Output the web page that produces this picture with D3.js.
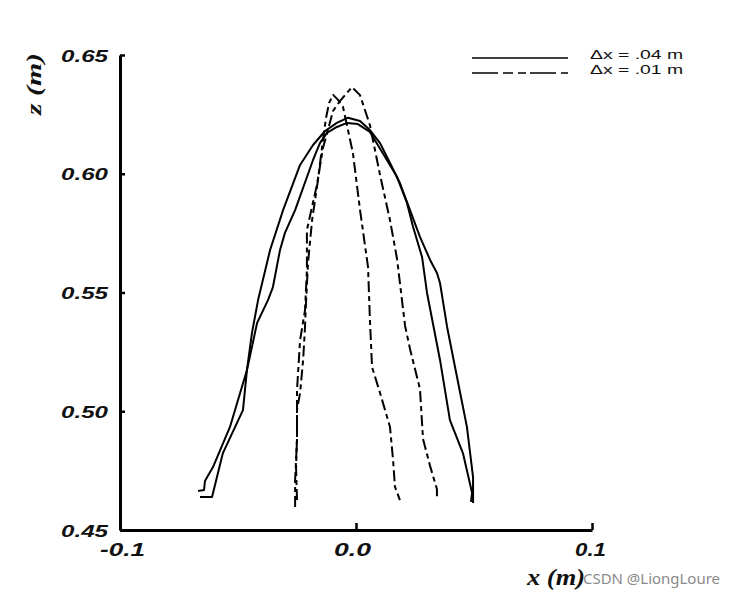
<!DOCTYPE html>
<html><head><meta charset="utf-8">
<script src="https://cdn.jsdelivr.net/npm/d3@7"></script>
<style>body{margin:0;background:#fff}svg{display:block}</style>
</head><body><svg id="c" width="734" height="599"></svg>
<script>
// ---- data (x in m, z in m) ----
const xTickValues = [-0.1, 0.0, 0.1];
const xTickLabels = ["-0.1", "0.0", "0.1"];
const yTickValues = [0.45, 0.50, 0.55, 0.60, 0.65];
const yTickLabels = ["0.45", "0.50", "0.55", "0.60", "0.65"];
const legendLabels = ["\u0394x = .04 m", "\u0394x = .01 m"];

// dx = .04 m (solid), two profiles
const solidOuter = [
  [-0.0661,0.4639],[-0.0610,0.4639],[-0.0564,0.4824],[-0.0479,0.5005],[-0.0462,0.5174],
  [-0.0441,0.5329],[-0.0415,0.5468],[-0.0364,0.5679],[-0.0309,0.5847],[-0.0237,0.6037],
  [-0.0182,0.6121],[-0.0131,0.6180],[-0.0081,0.6214],[-0.0034,0.6236],
  [0.0017,0.6222],[0.0059,0.6184],[0.0102,0.6129],[0.0144,0.6045],[0.0186,0.5961],
  [0.0229,0.5847],[0.0271,0.5734],[0.0314,0.5637],[0.0343,0.5582],[0.0356,0.5540],
  [0.0386,0.5355],[0.0428,0.5144],[0.0470,0.4934],[0.0496,0.4723],[0.0496,0.4614]
];
const solidInner = [
  [-0.0669,0.4664],[-0.0644,0.4668],[-0.0640,0.4706],[-0.0606,0.4765],[-0.0534,0.4934],
  [-0.0462,0.5174],[-0.0419,0.5372],[-0.0373,0.5468],[-0.0352,0.5523],[-0.0322,0.5679],
  [-0.0301,0.5751],[-0.0258,0.5847],[-0.0182,0.6058],[-0.0153,0.6129],[-0.0123,0.6172],
  [-0.0081,0.6197],[-0.0038,0.6214],[0.0008,0.6209],[0.0059,0.6176],[0.0131,0.6058],
  [0.0174,0.5986],[0.0216,0.5877],[0.0242,0.5776],[0.0280,0.5649],[0.0301,0.5498],
  [0.0356,0.5216],[0.0398,0.4963],[0.0453,0.4824],[0.0492,0.4656],[0.0487,0.4618]
];
// dx = .01 m (dashed), two profiles
const dashedTall = [
  [-0.0258,0.4597],[-0.0258,0.4711],[-0.0250,0.4879],[-0.0250,0.5089],[-0.0237,0.5299],
  [-0.0216,0.5426],[-0.0208,0.5595],[-0.0208,0.5628],[-0.0208,0.5763],[-0.0165,0.5956],
  [-0.0140,0.6108],[-0.0097,0.6265],[-0.0068,0.6306],[-0.0017,0.6365],[0.0017,0.6331],
  [0.0059,0.6205],[0.0102,0.5994],[0.0144,0.5805],[0.0174,0.5641],[0.0208,0.5359],
  [0.0229,0.5262],[0.0271,0.5094],[0.0284,0.4883],[0.0314,0.4769],[0.0343,0.4672],
  [0.0343,0.4639]
];
const dashedLow = [
  [-0.0250,0.4626],[-0.0254,0.4762],[-0.0250,0.4888],[-0.0250,0.5005],[-0.0237,0.5077],
  [-0.0224,0.5216],[-0.0216,0.5355],[-0.0212,0.5456],[-0.0203,0.5628],[-0.0186,0.5805],
  [-0.0161,0.5974],[-0.0140,0.6142],[-0.0127,0.6235],[-0.0114,0.6298],[-0.0097,0.6332],
  [-0.0076,0.6311],[-0.0055,0.6281],[-0.0034,0.6184],[-0.0013,0.6087],[0.0017,0.5848],
  [0.0051,0.5607],[0.0059,0.5384],[0.0068,0.5186],[0.0102,0.5077],[0.0144,0.4934],
  [0.0157,0.4796],[0.0165,0.4682],[0.0186,0.4626]
];

// ---- layout ----
const svg = d3.select("#c");
const x = d3.scaleLinear().domain([-0.1, 0.1]).range([120, 592]);
const y = d3.scaleLinear().domain([0.45, 0.65]).range([530, 55]);

const tickFont = "'Liberation Sans', Arial, sans-serif";
const serif = "'Liberation Serif', 'DejaVu Serif', serif";

// y axis
const yAxis = svg.append("g").attr("transform", `translate(${x(-0.1)},0)`)
  .call(d3.axisLeft(y).tickValues(yTickValues).tickSize(-5).tickSizeOuter(0)
    .tickFormat((d,i) => yTickLabels[i]).tickPadding(12));
yAxis.select(".domain").attr("stroke", "#000").attr("stroke-width", 3);
yAxis.selectAll(".tick line").attr("stroke", "#000").attr("stroke-width", 2.5);
yAxis.selectAll(".tick text").attr("font-family", tickFont).attr("font-size", 17)
  .attr("font-style", "italic").attr("font-weight", "bold").attr("fill", "#111")
  .attr("dy", "0.36em").attr("textLength", 47).attr("lengthAdjust", "spacingAndGlyphs");

// x axis
const xAxis = svg.append("g").attr("transform", `translate(0,${y(0.45)})`)
  .call(d3.axisBottom(x).tickValues(xTickValues).tickSize(-7).tickSizeOuter(0)
    .tickFormat((d,i) => xTickLabels[i]).tickPadding(13));
xAxis.select(".domain").attr("stroke", "#000").attr("stroke-width", 3);
xAxis.selectAll(".tick line").attr("stroke", "#000").attr("stroke-width", 2.5);
xAxis.selectAll(".tick text").attr("font-family", tickFont).attr("font-size", 19)
  .attr("font-style", "italic").attr("font-weight", "bold").attr("fill", "#111")
  .attr("textLength", (d,i) => [45, 37, 31][i]).attr("lengthAdjust", "spacingAndGlyphs")
  .attr("dx", (d,i) => [2, -4, -2][i]);
xAxis.selectAll(".tick").filter(d => d === -0.1).select("line").remove();

// curves
const line = d3.line().x(d => x(d[0])).y(d => y(d[1])).curve(d3.curveLinear);
const series = [
  {data: solidOuter, dash: null},
  {data: solidInner, dash: null},
  {data: dashedTall, dash: "11,4,5,4"},
  {data: dashedLow, dash: "11,4,5,4"}
];
svg.append("g").selectAll("path").data(series).join("path")
  .attr("d", d => line(d.data))
  .attr("fill", "none").attr("stroke", "#000").attr("stroke-width", 2)
  .attr("stroke-linejoin", "round")
  .attr("stroke-dasharray", d => d.dash);

// legend
const lg = svg.append("g");
[0,1].forEach(i => {
  const ly = 58 + i * 15;
  lg.append("line").attr("x1", 472).attr("x2", 568).attr("y1", ly).attr("y2", ly)
    .attr("stroke", "#000").attr("stroke-width", 1.6)
    .attr("stroke-dasharray", i === 0 ? null : "26,5,10,5,8,4");
  lg.append("text").attr("x", 590).attr("y", ly + 1).text(legendLabels[i])
    .attr("font-family", tickFont).attr("font-size", 13).attr("fill", "#111")
    .attr("textLength", 93).attr("lengthAdjust", "spacingAndGlyphs");
});

// axis titles
const zt = svg.append("text").attr("transform", "translate(41,115) rotate(-90)")
  .attr("font-family", serif).attr("font-size", 22).attr("font-weight", "bold")
  .attr("font-style", "italic").attr("fill", "#111")
  .attr("textLength", 62).attr("lengthAdjust", "spacingAndGlyphs")
  .text("z (m)");

const xt = svg.append("text").attr("x", 527).attr("y", 585)
  .attr("font-family", serif).attr("font-size", 23).attr("font-weight", "bold")
  .attr("font-style", "italic").attr("fill", "#111")
  .attr("textLength", 58).attr("lengthAdjust", "spacingAndGlyphs")
  .text("x (m)");

// watermark
svg.append("text").attr("x", 583).attr("y", 584).text("CSDN @LiongLoure")
  .attr("font-family", "'Noto Sans', 'DejaVu Sans', sans-serif")
  .attr("font-size", 15).attr("fill", "#8a8a8a")
  .attr("textLength", 137).attr("lengthAdjust", "spacingAndGlyphs");
</script></body></html>
